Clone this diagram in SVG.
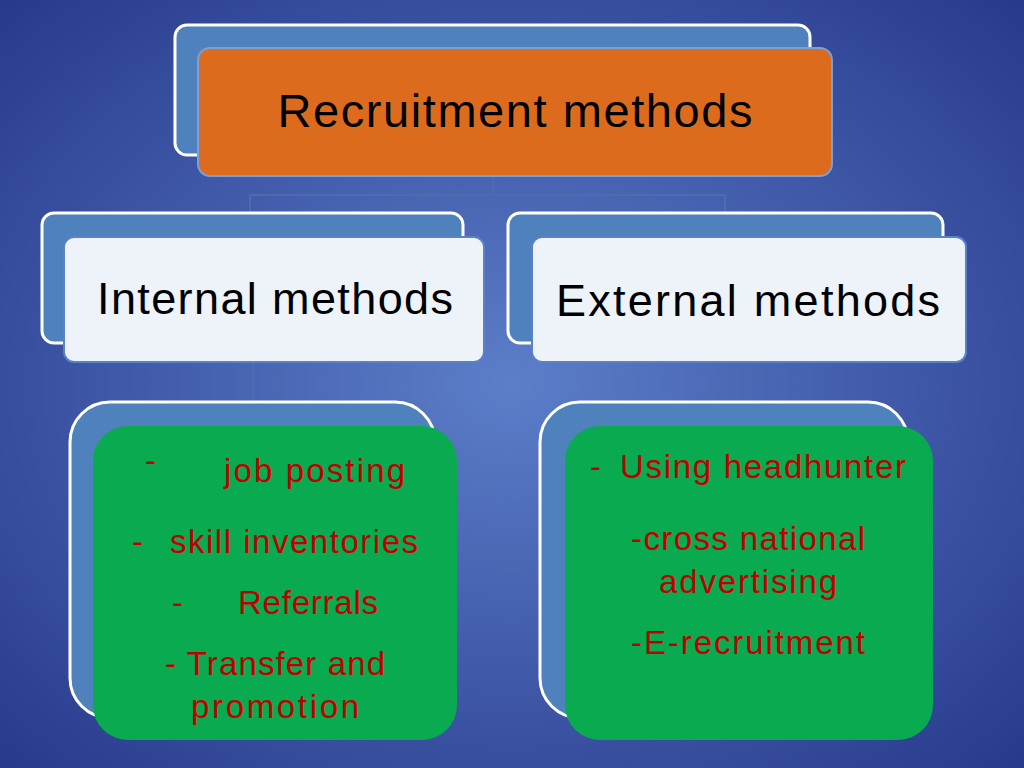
<svg xmlns="http://www.w3.org/2000/svg" width="1024" height="768" viewBox="0 0 1024 768">
<defs>
<radialGradient id="bg" cx="50%" cy="50%" r="70%"><stop offset="0" stop-color="#5c7ec9"/><stop offset="1" stop-color="#283a8c"/></radialGradient>
<style>
.back{fill:#4f81bd;stroke:#ffffff;stroke-width:3}
.lt{fill:#eef2f9;stroke:#5a82c4;stroke-width:2}
.or{fill:#dc6b1e;stroke:#7aa0d8;stroke-width:2}
.gr{fill:#0aab50;stroke:none}
.h{font-family:"Liberation Sans",Arial,sans-serif;fill:#000}
.r{font-family:"Liberation Sans",Arial,sans-serif;fill:#c00000;font-size:33px}
.c{fill:none;stroke:#4a6db0;stroke-width:2}
</style>
</defs>
<rect width="1024" height="768" fill="url(#bg)"/>
<g id="connectors">
<path class="c" d="M493 178V195M250 195H725M250 195V213M725 195V213M253 362V402M725 362V402"/>
</g>
<g id="root">
<rect class="back" x="175" y="25" width="635" height="130" rx="12"/>
<rect class="or" x="198" y="48" width="634" height="128" rx="12"/>
<text class="h" x="515" y="127" font-size="47" text-anchor="middle" textLength="475">Recruitment methods</text>
</g>
<g id="internal">
<rect class="back" x="42" y="213" width="421" height="130" rx="12"/>
<rect class="lt" x="64" y="237" width="420" height="125" rx="10"/>
<text class="h" x="97" y="314" font-size="45" textLength="356">Internal methods</text>
</g>
<g id="external">
<rect class="back" x="508" y="213" width="435" height="130" rx="12"/>
<rect class="lt" x="532" y="237" width="434" height="125" rx="10"/>
<text class="h" x="556" y="316" font-size="45" textLength="384">External methods</text>
</g>
<g id="internal-list">
<rect class="back" x="70" y="402" width="365" height="316" rx="40"/>
<rect class="gr" x="93" y="426" width="364" height="314" rx="35"/>
<text class="r" x="145" y="472" font-size="40">-</text>
<text class="r" x="224" y="482" textLength="181">job posting</text>
<text class="r" x="132" y="553">-</text>
<text class="r" x="170" y="553" textLength="248">skill inventories</text>
<text class="r" x="172" y="614">-</text>
<text class="r" x="238" y="614" textLength="140">Referrals</text>
<text class="r" x="275" y="675" text-anchor="middle" textLength="220">- Transfer and</text>
<text class="r" x="275" y="718" text-anchor="middle" textLength="168">promotion</text>
</g>
<g id="external-list">
<rect class="back" x="540" y="402" width="368" height="316" rx="40"/>
<rect class="gr" x="565" y="426" width="368" height="314" rx="35"/>
<text class="r" x="590" y="478" font-size="44">-</text>
<text class="r" x="620" y="478" textLength="286">Using headhunter</text>
<text class="r" x="748" y="550" text-anchor="middle" textLength="234">-cross national</text>
<text class="r" x="748" y="593" text-anchor="middle" textLength="178">advertising</text>
<text class="r" x="748" y="654" text-anchor="middle" textLength="234">-E-recruitment</text>
</g>
</svg>
